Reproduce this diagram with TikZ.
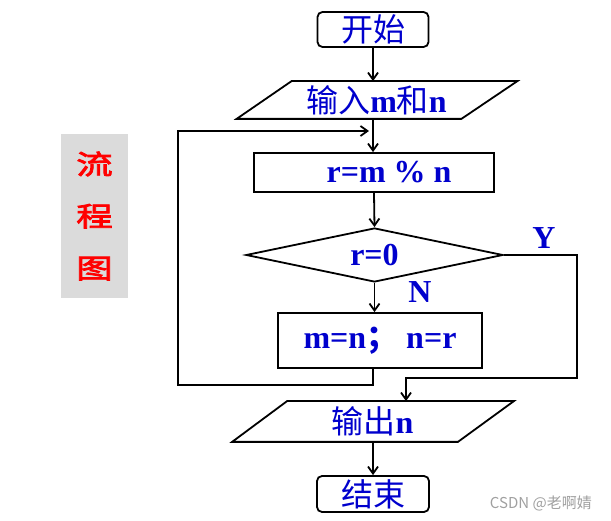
\documentclass[tikz,border=0pt]{standalone}
\usepackage{fontspec}
\setmainfont{Liberation Serif}
\newfontfamily\cjk{Noto Sans CJK SC}
\newfontfamily\cjkb[FakeBold=3,FakeStretch=1.35]{Noto Sans CJK SC}
\usetikzlibrary{shapes.geometric, arrows.meta}

\definecolor{txtblue}{RGB}{0,0,205}
\definecolor{sidegray}{RGB}{219,219,219}
\definecolor{markgray}{RGB}{160,160,160}

\tikzset{
	term/.style={draw, rounded corners=5pt, minimum width=111pt, minimum height=35pt, inner sep=0pt},
	proc/.style={draw, inner sep=0pt},
	iobox/.style={inner sep=0pt, minimum height=37pt},
	arr/.style={-{Straight Barb[length=7pt,width=10pt]}},
}

\begin{document}
\begin{tikzpicture}[x=1pt, y=-1pt, line width=1.8pt,
	every node/.style={text=txtblue, font=\fontsize{32}{36}\selectfont}]

	\useasboundingbox (0,0) rectangle (611,521);

	% side label
	\node[fill=sidegray, minimum width=67pt, minimum height=164pt, inner sep=0pt, text=red,
		align=center, font=\cjkb\fontsize{27}{52}\selectfont] (side) at (94.5,216) {流\\程\\图};

	% boxes
	\node[term] (start) at (373,29.5) {\cjk 开始};
	\node[iobox, minimum height=36pt, minimum width=168pt] (in) at (376.5,100) {{\cjk 输入}\textbf{m}{\cjk 和}\textbf{n}};
	\draw (in.north west) -- ([xshift=56pt]in.north east) -- (in.south east) -- ([xshift=-55pt]in.south west) -- cycle;
	\node[proc, minimum width=240pt, minimum height=39pt] (calc) at (374,172.5) {\bfseries\hspace*{30pt}r=m \% n};
	\node[draw, diamond, aspect=4.7, minimum width=257pt, minimum height=54pt, inner sep=0pt] (test) at (374.5,255) {\bfseries r=0};
	\node[proc, minimum width=204pt, minimum height=55pt] (upd) at (380,340.5) {\bfseries m=n{\cjk ；}\ n=r};
	\node[iobox, minimum height=39pt, minimum width=169pt] (out) at (372.5,421.5) {{\cjk 输出}\textbf{n}};
	\draw (out.north west) -- ([xshift=56pt]out.north east) -- (out.south east) -- ([xshift=-55pt]out.south west) -- cycle;
	\node[term, minimum width=112pt, minimum height=36pt] (end) at (373,494) {\cjk 结束};

	% branch labels
	\node (ylab) at (544,238) {\bfseries Y};
	\node (nlab) at (420,292) {\bfseries N};

	\node[text=markgray, font=\cjk\fontsize{15}{17}\selectfont, anchor=east] (mark) at (596,503) {CSDN @老啊婧};

	% connectors
	\coordinate (join) at (373,131);
	\coordinate (lowL) at (178,385);
	\coordinate (yesR) at (577,378);
	\coordinate (merge) at (406,378);

	\draw[arr] (start.south) -- (start.south |- in.north);
	\draw[arr] (in.south -| join) -- (calc.north -| join);
	\draw[arr] (calc.south) -- (test.north);
	\draw[arr] (test.south) -- (test.south |- upd.north);
	\draw[arr, shorten >=4pt] (join |- upd.south) -- (join |- lowL) -- (lowL) |- (join);
	\draw[arr] (test.east) -| (yesR) -- (merge) -- (merge |- out.north);
	\draw[arr] (out.south -| end.north) -- (end.north);
\end{tikzpicture}
\end{document}
